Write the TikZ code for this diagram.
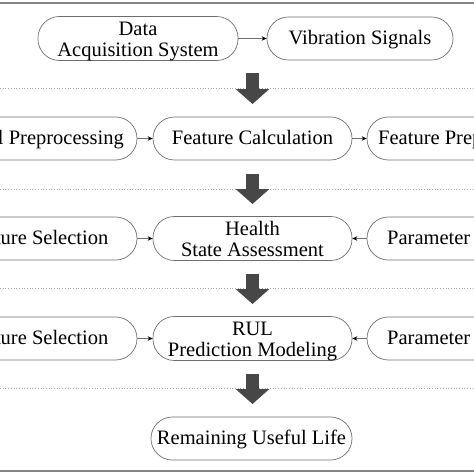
\documentclass[tikz,border=0pt]{standalone}
\usepackage{fontspec}
\setmainfont{Liberation Serif}
\usetikzlibrary{arrows.meta}
\definecolor{boxgray}{HTML}{6E6E6E}
\definecolor{arrowgray}{HTML}{474747}
\definecolor{dotgray}{HTML}{A8A8A8}
\definecolor{rulegray}{HTML}{858585}
\begin{document}
\begin{tikzpicture}[x=1pt,y=-1pt,
  stagebox/.style={draw=boxgray, line width=0.7pt, rounded corners=21.4pt,
    minimum height=43pt, inner sep=0pt, align=center,
    font=\fontsize{20.5}{21}\selectfont},
  oneline/.style={text height=15pt, text depth=3pt},
  twoline/.style={text height=40pt, text depth=4pt},
  cuttext/.style={inner sep=0pt, font=\fontsize{20.5}{21}\selectfont,
    text height=15pt, text depth=3pt},
  smallarrow/.style={draw=boxgray, line width=0.7pt,
    -{Stealth[length=5pt,width=4.5pt,color=black]}},
  bigarrow/.style={draw=arrowgray, line width=13pt,
    -{Triangle[length=15pt,width=33pt,color=arrowgray]}, shorten >=-1pt},
  stageline/.style={dotgray, line width=0.7pt, dotted},
  frame/.style={rulegray, line width=1.2pt}]
\useasboundingbox (0,0) rectangle (474,474);
\clip (0,0) rectangle (474,474);
% outer rules
\draw[frame] (0,3) -- (474,3);
\draw[frame] (0,471) -- (474,471);
% stage separators
\foreach \yy in {88.5,189,288.5,388.5}
  \draw[stageline] (0,\yy) -- (474,\yy);
% row 1
\node[stagebox, twoline, minimum width=200pt] (das) at (138,38.5) {Data\\Acquisition System};
\node[stagebox, oneline, minimum width=186pt] (vib) at (360,38.5) {Vibration Signals};
\draw[smallarrow] (das) -- (vib);
% row 2
\node[stagebox, minimum width=197pt] (pre) at (38.5,138.5) {};
\node[cuttext, anchor=east] (pret) at (124,138.5) {l Preprocessing};
\node[stagebox, oneline, minimum width=199pt] (calc) at (252.5,138.5) {Feature Calculation};
\node[stagebox, minimum width=193pt] (fprep) at (463.5,138.5) {};
\node[cuttext, anchor=west] (fprept) at (378,138.5) {Feature Prep};
\draw[smallarrow] (pre) -- (calc);
\draw[smallarrow] (calc) -- (fprep);
% row 3
\node[stagebox, minimum width=197pt] (sel1) at (38.5,238.5) {};
\node[cuttext, anchor=east] (sel1t) at (108.5,238.5) {ture Selection};
\node[stagebox, twoline, minimum width=199pt] (hsa) at (252.5,238.5) {Health\\State Assessment};
\node[stagebox, minimum width=193pt] (par1) at (463.5,238.5) {};
\node[cuttext, anchor=west] (par1t) at (387,238.5) {Parameter};
\draw[smallarrow] (sel1) -- (hsa);
\draw[smallarrow] (par1) -- (hsa);
% row 4
\node[stagebox, minimum width=197pt] (sel2) at (38.5,338.5) {};
\node[cuttext, anchor=east] (sel2t) at (108.5,338.5) {ture Selection};
\node[stagebox, twoline, minimum width=199pt] (rul) at (252.5,338.5) {RUL\\Prediction Modeling};
\node[stagebox, minimum width=193pt] (par2) at (463.5,338.5) {};
\node[cuttext, anchor=west] (par2t) at (387,338.5) {Parameter};
\draw[smallarrow] (sel2) -- (rul);
\draw[smallarrow] (par2) -- (rul);
% row 5
\node[stagebox, oneline, minimum width=201pt] (life) at (251.5,438.5) {Remaining Useful Life};
% big stage arrows
\coordinate (a1s) at (252.5,73);  \coordinate (a1e) at (252.5,103);
\coordinate (a2s) at (252.5,174); \coordinate (a2e) at (252.5,203);
\coordinate (a3s) at (252.5,274); \coordinate (a3e) at (252.5,303);
\coordinate (a4s) at (252.5,374); \coordinate (a4e) at (252.5,403);
\draw[bigarrow] (a1s) -- (a1e);
\draw[bigarrow] (a2s) -- (a2e);
\draw[bigarrow] (a3s) -- (a3e);
\draw[bigarrow] (a4s) -- (a4e);
\end{tikzpicture}
\end{document}
